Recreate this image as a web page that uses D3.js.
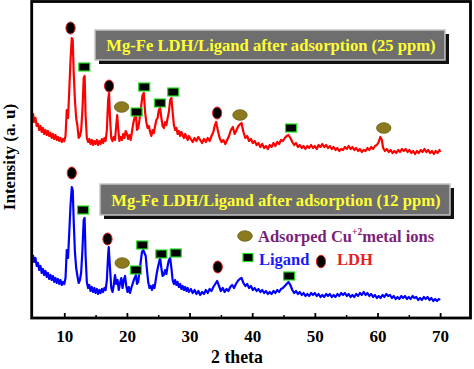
<!DOCTYPE html>
<html>
<head>
<meta charset="utf-8">
<script src="https://d3js.org/d3.v7.min.js"></script>
<style>
  body { margin: 0; background: #fff; }
  text { font-family: "Liberation Serif", "Times New Roman", serif; font-weight: bold; }
</style>
</head>
<body>
<svg width="474" height="369"></svg>
<script>
// XRD patterns, [2 theta, intensity (a.u.)]
var redPattern = [
  [5.0,205],[5.2,196],[5.4,200],[5.6,192],[5.8,194],[6.0,188],[6.2,192],[6.4,186],[6.6,190],[6.8,184],
  [7.0,188],[7.2,183],[7.4,187],[7.6,182],[7.8,185],[8.0,180],[8.2,184],[8.4,179],[8.6,183],[8.8,178],
  [9.0,181],[9.2,177],[9.4,180],[9.6,176],[9.8,179],[10.0,177],[10.2,182],[10.4,208],[10.6,200],[10.8,228],
  [11.0,258],[11.2,280],[11.35,278],[11.5,246],[11.7,218],[11.9,200],[12.1,192],[12.3,180],[12.5,182],[12.7,188],
  [12.9,208],[13.1,240],[13.25,242],[13.4,203],[13.6,180],[13.8,176],[14.0,179],[14.2,174],[14.4,178],[14.6,173],
  [14.8,177],[15.0,174],[15.2,178],[15.4,173],[15.6,177],[15.8,174],[16.0,179],[16.2,175],[16.4,180],[16.6,177],
  [16.8,188],[17.0,218],[17.15,225],[17.3,200],[17.5,180],[17.7,177],[17.9,181],[18.1,178],[18.3,193],[18.45,203],
  [18.6,190],[18.8,177],[19.0,181],[19.2,178],[19.4,184],[19.6,180],[19.8,187],[20.0,184],[20.2,179],[20.4,183],
  [20.6,178],[20.8,186],[21.0,194],[21.2,200],[21.45,203],[21.6,188],[21.8,190],[22.0,198],[22.2,208],[22.5,223],
  [22.7,225],[22.9,206],[23.1,196],[23.3,190],[23.5,192],[23.7,186],[23.9,182],[24.1,188],[24.3,185],[24.5,192],
  [24.7,198],[24.9,200],[25.1,208],[25.3,210],[25.5,200],[25.7,192],[25.9,190],[26.1,196],[26.3,193],[26.5,200],
  [26.7,206],[26.9,218],[27.1,220],[27.3,206],[27.5,193],[27.7,188],[27.9,190],[28.1,184],[28.3,187],[28.5,182],
  [28.7,186],[28.9,183],[29.1,180],[29.3,184],[29.5,181],[29.7,178],[29.9,182],[30.2,179],[30.5,176],[30.8,180],
  [31.1,177],[31.4,181],[31.7,178],[32.0,175],[32.3,179],[32.6,176],[32.9,180],[33.2,177],[33.5,182],[33.8,186],
  [34.0,192],[34.25,196],[34.5,188],[34.8,180],[35.1,176],[35.4,178],[35.7,174],[36.0,178],[36.3,182],[36.6,188],
  [36.9,191],[37.2,184],[37.5,188],[37.8,192],[38.1,194],[38.3,195],[38.6,186],[38.9,180],[39.2,182],[39.5,177],
  [39.8,179],[40.1,175],[40.4,177],[40.7,173],[41.0,175],[41.3,171],[41.6,174],[41.9,170],[42.2,172],[42.5,169],
  [42.8,173],[43.1,171],[43.4,175],[43.7,172],[44.0,176],[44.3,174],[44.6,178],[44.9,177],[45.2,180],[45.5,182],
  [45.8,183],[46.1,180],[46.4,176],[46.7,173],[47.0,175],[47.3,171],[47.6,173],[47.9,170],[48.2,172],[48.5,169],
  [48.8,172],[49.1,170],[49.4,173],[49.7,170],[50.0,172],[50.3,169],[50.6,173],[50.9,171],[51.2,174],[51.5,171],
  [51.8,173],[52.1,170],[52.4,172],[52.7,169],[53.0,171],[53.3,168],[53.6,170],[53.9,167],[54.2,169],[54.5,168],
  [54.8,171],[55.1,169],[55.4,172],[55.7,169],[56.0,171],[56.3,168],[56.6,170],[56.9,167],[57.2,169],[57.5,166],
  [57.8,168],[58.1,167],[58.4,170],[58.7,168],[59.0,171],[59.3,169],[59.6,172],[59.9,173],[60.2,176],[60.45,181],
  [60.7,178],[60.9,170],[61.2,167],[61.5,169],[61.8,166],[62.1,168],[62.4,165],[62.7,167],[63.0,165],[63.3,168],
  [63.6,166],[63.9,169],[64.2,167],[64.5,169],[64.8,166],[65.1,168],[65.4,165],[65.7,167],[66.0,164],[66.3,167],
  [66.6,165],[66.9,168],[67.2,166],[67.5,169],[67.8,166],[68.1,168],[68.4,165],[68.7,167],[69.0,164],[69.3,167],
  [69.6,165],[69.9,168],[70.0,166]
];

var bluePattern = [
  [5.0,63],[5.2,56],[5.4,60],[5.6,52],[5.8,55],[6.0,48],[6.2,52],[6.4,45],[6.6,49],[6.8,43],
  [7.0,47],[7.2,41],[7.4,45],[7.6,39],[7.8,43],[8.0,38],[8.2,42],[8.4,36],[8.6,40],[8.8,35],
  [9.0,39],[9.2,34],[9.4,38],[9.6,33],[9.8,36],[10.0,34],[10.2,40],[10.4,68],[10.6,60],[10.8,86],
  [11.0,113],[11.2,131],[11.35,128],[11.5,98],[11.7,66],[11.9,50],[12.1,42],[12.3,35],[12.5,38],[12.7,46],
  [12.9,68],[13.1,98],[13.25,100],[13.4,63],[13.6,36],[13.8,30],[14.0,33],[14.2,27],[14.4,31],[14.6,26],
  [14.8,30],[15.0,25],[15.2,29],[15.4,24],[15.6,28],[15.8,25],[16.0,29],[16.2,26],[16.4,30],[16.6,28],
  [16.8,38],[17.0,63],[17.1,71],[17.3,50],[17.5,30],[17.7,26],[17.9,33],[18.1,43],[18.3,34],[18.5,38],
  [18.7,28],[18.9,35],[19.1,40],[19.3,30],[19.5,38],[19.7,42],[19.9,32],[20.1,26],[20.3,31],[20.5,25],
  [20.7,30],[20.9,34],[21.1,38],[21.45,43],[21.6,34],[21.8,36],[22.0,46],[22.2,56],[22.4,66],[22.6,68],
  [22.8,65],[23.0,62],[23.2,48],[23.4,36],[23.6,30],[23.8,32],[24.0,28],[24.2,33],[24.4,30],[24.6,38],
  [24.8,46],[25.0,52],[25.3,60],[25.5,50],[25.7,42],[25.9,43],[26.1,48],[26.3,44],[26.5,52],[26.7,58],
  [26.9,60],[27.1,50],[27.3,38],[27.5,34],[27.7,38],[27.9,33],[28.1,36],[28.3,31],[28.5,34],[28.7,29],
  [28.9,32],[29.1,28],[29.3,31],[29.5,27],[29.7,30],[29.9,26],[30.2,29],[30.5,25],[30.8,28],[31.1,24],
  [31.4,27],[31.7,23],[32.0,26],[32.3,24],[32.6,28],[32.9,25],[33.2,29],[33.5,27],[33.8,31],[34.1,34],
  [34.4,37],[34.7,32],[35.0,27],[35.3,30],[35.6,26],[35.9,29],[36.2,27],[36.5,31],[36.8,33],[37.1,30],
  [37.4,34],[37.7,37],[38.0,39],[38.3,40],[38.6,35],[38.9,32],[39.2,34],[39.5,30],[39.8,32],[40.1,28],
  [40.4,30],[40.7,27],[41.0,29],[41.3,26],[41.6,28],[41.9,25],[42.2,27],[42.5,24],[42.8,26],[43.1,24],
  [43.4,27],[43.7,25],[44.0,28],[44.3,26],[44.6,29],[44.9,30],[45.2,32],[45.5,34],[45.8,36],[46.1,33],
  [46.4,28],[46.7,25],[47.0,27],[47.3,24],[47.6,26],[47.9,23],[48.2,25],[48.5,22],[48.8,24],[49.1,22],
  [49.4,25],[49.7,23],[50.0,25],[50.3,22],[50.6,24],[50.9,21],[51.2,23],[51.5,21],[51.8,24],[52.1,22],
  [52.4,24],[52.7,21],[53.0,23],[53.3,21],[53.6,24],[53.9,22],[54.2,25],[54.5,23],[54.8,25],[55.1,22],
  [55.4,24],[55.7,21],[56.0,23],[56.3,21],[56.6,24],[56.9,22],[57.2,25],[57.5,23],[57.8,26],[58.1,23],
  [58.4,25],[58.7,22],[59.0,24],[59.3,21],[59.6,23],[59.9,20],[60.2,22],[60.5,20],[60.8,23],[61.1,21],
  [61.4,24],[61.7,22],[62.0,23],[62.3,20],[62.6,22],[62.9,19],[63.2,21],[63.5,19],[63.8,22],[64.1,20],
  [64.4,22],[64.7,19],[65.0,21],[65.3,19],[65.6,22],[65.9,20],[66.2,21],[66.5,18],[66.8,20],[67.1,18],
  [67.4,21],[67.7,19],[68.0,21],[68.3,18],[68.6,20],[68.9,17],[69.2,19],[69.5,17],[69.8,19],[70.0,18]
];

// phase markers [2 theta, intensity]
var redLDH = [[11.0,290],[17.15,232],[34.4,205]];
var redLigand = [[13.2,251],[21.55,206],[22.77,231],[25.27,215],[27.4,226],[46.2,190]];
var redCu = [[19.15,211],[38.05,203],[61.0,190]];
var blueLDH = [[11.2,145],[16.9,79],[34.5,51]];
var blueLigand = [[13.0,108],[21.45,48],[22.45,73],[25.5,64],[27.8,65],[45.9,42]];
var blueCu = [[19.25,55]];

var xTicks = [10, 20, 30, 40, 50, 60, 70];
var xMinor = [15, 25, 35, 45, 55, 65];
var titles = ["Mg-Fe LDH/Ligand after adsorption (25 ppm)", "Mg-Fe LDH/Ligand after adsorption (12 ppm)"];

var svg = d3.select("svg");
var plotL = 31.7, plotR = 470.5, plotT = 2, plotB = 318;

var x = d3.scaleLinear().domain([4.8, 74.85]).range([plotL, plotR]);
var y = d3.scaleLinear().domain([0, 316]).range([plotB, plotT]);

var line = d3.line()
  .x(function(d) { return x(d[0]); })
  .y(function(d) { return y(d[1]); });

svg.append("path").datum(redPattern)
  .attr("d", line).attr("fill", "none")
  .attr("stroke", "#ff0000").attr("stroke-width", 2.2).attr("stroke-linejoin", "round");

svg.append("path").datum(bluePattern)
  .attr("d", line).attr("fill", "none")
  .attr("stroke", "#0000ff").attr("stroke-width", 2.2).attr("stroke-linejoin", "round");

// markers
function ldh(g, data) {
  g.selectAll(null).data(data).enter().append("ellipse")
    .attr("cx", function(d) { return x(d[0]); })
    .attr("cy", function(d) { return y(d[1]); })
    .attr("rx", 4.6).attr("ry", 6)
    .attr("fill", "#000").attr("stroke", "#e8201c").attr("stroke-width", 1);
}
function ligand(g, data) {
  g.selectAll(null).data(data).enter().append("rect")
    .attr("x", function(d) { return x(d[0]) - 5.5; })
    .attr("y", function(d) { return y(d[1]) - 4; })
    .attr("width", 11).attr("height", 8)
    .attr("fill", "#000").attr("stroke", "#22dd22").attr("stroke-width", 1.2);
}
function cu(g, data) {
  g.selectAll(null).data(data).enter().append("ellipse")
    .attr("cx", function(d) { return x(d[0]); })
    .attr("cy", function(d) { return y(d[1]); })
    .attr("rx", 7.2).attr("ry", 5.3)
    .attr("fill", "#8b7b1e").attr("stroke", "#6b5a14").attr("stroke-width", 0.8);
}
var mk = svg.append("g");
ldh(mk, redLDH); ligand(mk, redLigand); cu(mk, redCu);
ldh(mk, blueLDH); ligand(mk, blueLigand); cu(mk, blueCu);

// title boxes
var boxes = [{x: 95, y: 30, w: 350, h: 30, t: titles[0]}, {x: 100, y: 184, w: 350, h: 31, t: titles[1]}];
boxes.forEach(function(b) {
  svg.append("rect").attr("x", b.x + 4).attr("y", b.y + 4).attr("width", b.w).attr("height", b.h).attr("fill", "#111");
  svg.append("rect").attr("x", b.x).attr("y", b.y).attr("width", b.w).attr("height", b.h)
    .attr("fill", "#6e6e6e").attr("stroke", "#c4c4c4").attr("stroke-width", 1.5);
  svg.append("text").attr("x", b.x + b.w / 2 + 1).attr("y", b.y + b.h / 2 + 6)
    .attr("text-anchor", "middle").attr("font-size", 16.6).attr("fill", "#ffff33").text(b.t);
});

// legend
var lg = svg.append("g");
lg.append("ellipse").attr("cx", 245).attr("cy", 236).attr("rx", 7.3).attr("ry", 5.2)
  .attr("fill", "#8b7b1e").attr("stroke", "#6b5a14").attr("stroke-width", 0.8);
var t1 = lg.append("text").attr("x", 258).attr("y", 241.5).attr("font-size", 16.5).attr("fill", "#7a1f7a");
t1.append("tspan").text("Adsorped Cu");
t1.append("tspan").attr("dy", -7).attr("font-size", 9.5).text("+2");
t1.append("tspan").attr("dy", 7).text("metal ions");
lg.append("rect").attr("x", 243).attr("y", 253.5).attr("width", 10).attr("height", 8)
  .attr("fill", "#000").attr("stroke", "#22dd22").attr("stroke-width", 1.2);
lg.append("text").attr("x", 259).attr("y", 265).attr("font-size", 16.5).attr("fill", "#1a1aff").text("Ligand");
lg.append("ellipse").attr("cx", 321).attr("cy", 261.5).attr("rx", 4.6).attr("ry", 6.3)
  .attr("fill", "#000").attr("stroke", "#e8201c").attr("stroke-width", 1);
lg.append("text").attr("x", 337).attr("y", 265).attr("font-size", 16.5).attr("fill", "#e8201c").text("LDH");

// frame and axis
svg.append("rect").attr("x", plotL).attr("y", plotT - 0.5).attr("width", plotR - plotL).attr("height", plotB - plotT + 0.5)
  .attr("fill", "none").attr("stroke", "#000").attr("stroke-width", 2.8);

var xAxis = svg.append("g").attr("transform", "translate(0," + plotB + ")")
  .call(d3.axisBottom(x).tickValues(xTicks).tickSize(-5).tickPadding(12).tickFormat(d3.format("d")));
xAxis.select(".domain").remove();
xAxis.selectAll("line").attr("stroke-width", 1.8);
xAxis.selectAll("text").attr("font-size", 17).attr("font-family", "Liberation Serif").attr("font-weight", "bold");

svg.append("g").attr("transform", "translate(0," + plotB + ")")
  .call(d3.axisBottom(x).tickValues(xMinor).tickSize(-3).tickFormat(""))
  .call(function(g) { g.select(".domain").remove(); g.selectAll("line").attr("stroke-width", 1.5); });

svg.append("text").attr("x", 237).attr("y", 363).attr("text-anchor", "middle")
  .attr("font-size", 17.8).attr("fill", "#000").text("2 theta");

svg.append("text").attr("transform", "translate(15,157) rotate(-90)").attr("text-anchor", "middle")
  .attr("font-size", 17).attr("fill", "#000").text("Intensity (a. u)");
</script>
</body>
</html>
